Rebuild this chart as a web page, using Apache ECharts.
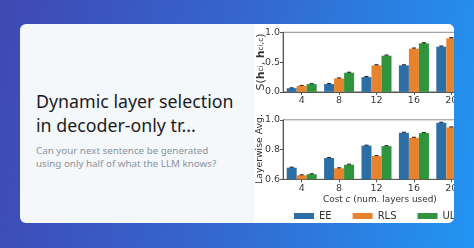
<!DOCTYPE html>
<html><head><meta charset="utf-8">
<script src="https://cdn.jsdelivr.net/npm/echarts@6/dist/echarts.min.js"></script>
<style>
html,body{margin:0;padding:0;width:474px;height:248px;overflow:hidden;}
body{background:linear-gradient(100deg,#4048b3 0%,#3468d0 50%,#2295f2 100%);font-family:"Noto Sans",sans-serif;position:relative;}
#card{position:absolute;left:20px;top:24px;width:434px;height:199px;border-radius:6px;background:#f5f8fb;overflow:hidden;}
#title{position:absolute;left:16px;top:64.5px;font-size:17.8px;line-height:24.5px;color:#1b1b1f;white-space:nowrap;}
#sub{position:absolute;left:16px;top:119.5px;font-size:9.8px;line-height:13.4px;color:#8a929b;white-space:nowrap;}
#chart{position:absolute;left:234px;top:0;width:260px;height:199px;background:#fff;}
</style></head>
<body>
<div id="card">
  <div id="title">Dynamic layer selection<br>in decoder-only tr...</div>
  <div id="sub">Can your next sentence be generated<br>using only half of what the LLM knows?</div>
  <div id="chart"></div>
</div>
<script>
const categories = ['4','8','12','16','20'];
const seriesNames = ['EE','RLS','UL'];
const colors = ['#2c6ea6','#e8832d','#2f943b'];
const simEE  = [0.06, 0.13, 0.247, 0.444, 0.758];
const simRLS = [0.10, 0.225, 0.444, 0.725, 0.90];
const simUL  = [0.13, 0.32, 0.607, 0.815, 0.95];
const simErr = [0.006, 0.008, 0.01, 0.01, 0.01];
const avgEE  = [0.678, 0.743, 0.826, 0.913, 0.98];
const avgRLS = [0.627, 0.674, 0.756, 0.879, 0.949];
const avgUL  = [0.634, 0.698, 0.823, 0.911, 0.97];
const avgErr = [0.003, 0.003, 0.003, 0.003, 0.003];
const topTicks = ['0.0','0.5','1.0'];
const botTicks = ['0.6','0.8','1.0'];

const chart = echarts.init(document.getElementById('chart'));
const font = 'DejaVu Sans';
const lab = {color:'#3a3a3a', fontSize:9.5, fontFamily:font};
const BW = 10;

function grid(top){ return {left:29, top:top, width:187, height:59.5, show:true, borderColor:'#8c8c8c', borderWidth:1, containLabel:false}; }
function xAx(gi){ return {type:'category', gridIndex:gi, data:categories,
  axisLine:{lineStyle:{color:'#555'}}, axisTick:{show:true, alignWithLabel:true, length:3, lineStyle:{color:'#555'}},
  axisLabel:Object.assign({margin:4},lab)}; }
function yAx(gi,min,max,interval,ticks){ return {type:'value', gridIndex:gi, min:min, max:max, interval:interval,
  axisLine:{show:true, lineStyle:{color:'#555'}}, axisTick:{show:true, length:3, lineStyle:{color:'#555'}},
  splitLine:{show:false},
  axisLabel:Object.assign({margin:3, formatter:(v)=>{const i=Math.round((v-min)/interval); return ticks[i]||'';}},lab)}; }

function bars(gi,vals){ return vals.map((d,k)=>({type:'bar', name:seriesNames[k], xAxisIndex:gi, yAxisIndex:gi,
  data:d, barWidth:BW, barGap:'0%', itemStyle:{color:colors[k]}, silent:true, animation:false})); }
function errs(gi,vals,err){
  return vals.map((d,k)=>({type:'custom', xAxisIndex:gi, yAxisIndex:gi, silent:true, animation:false,
    data:d.map((v,i)=>[i,v,err[i]]),
    renderItem:(params,api)=>{
      const hi=api.coord([api.value(0), api.value(1)+api.value(2)]);
      const lo=api.coord([api.value(0), api.value(1)-api.value(2)]);
      const x=hi[0]+(k-1)*BW;
      return {type:'group', children:[
        {type:'line', shape:{x1:x,y1:hi[1],x2:x,y2:lo[1]}, style:{stroke:'#2a2a2a',lineWidth:1.2}},
        {type:'line', shape:{x1:x-2,y1:hi[1],x2:x+2,y2:hi[1]}, style:{stroke:'#2a2a2a',lineWidth:1.2}},
        {type:'line', shape:{x1:x-2,y1:lo[1],x2:x+2,y2:lo[1]}, style:{stroke:'#2a2a2a',lineWidth:1.2}}
      ]};
    }}));
}

chart.setOption({
  animation:false,
  textStyle:{fontFamily:font},
  grid:[grid(8.3), grid(95.8)],
  xAxis:[xAx(0), xAx(1)],
  yAxis:[yAx(0,0,1,0.5,topTicks), yAx(1,0.6,1.0,0.2,botTicks)],
  legend:{data:seriesNames, left:40, top:186, padding:0, itemWidth:20, itemHeight:6, itemGap:21, icon:'rect',
    textStyle:{color:'#333', fontSize:10, fontFamily:font, lineHeight:12}},
  graphic:[
    {type:'text', left:69, top:171, style:{
      rich:{n:{fontSize:8.9,fontFamily:font,fill:'#333'}, i:{fontSize:8.9,fontFamily:font,fontStyle:'italic',fill:'#333'}},
      text:'{n|Cost }{i|c}{n| (num. layers used)}'}},
    {type:'text', x:1.5, y:38, rotation:Math.PI/2, style:{
      text:'{n|S(}{b|h}{s|c}{s|i}{n|, }{b|h}{s|c}{s|i,c}{n|)}', align:'center', verticalAlign:'top',
      rich:{n:{fontSize:11,fontFamily:font,fill:'#333'}, b:{fontSize:11,fontWeight:'bold',fontFamily:font,fill:'#333'}, s:{fontSize:7.5,fontFamily:font,fill:'#333'}}}},
    {type:'text', x:1.5, y:125, rotation:Math.PI/2, style:{
      text:'Layerwise Avg.', align:'center', verticalAlign:'top', fontSize:9.3, fontFamily:font, fill:'#333'}}
  ],
  series:[...bars(0,[simEE,simRLS,simUL]), ...errs(0,[simEE,simRLS,simUL],simErr),
          ...bars(1,[avgEE,avgRLS,avgUL]), ...errs(1,[avgEE,avgRLS,avgUL],avgErr)]
});
</script>
</body></html>
